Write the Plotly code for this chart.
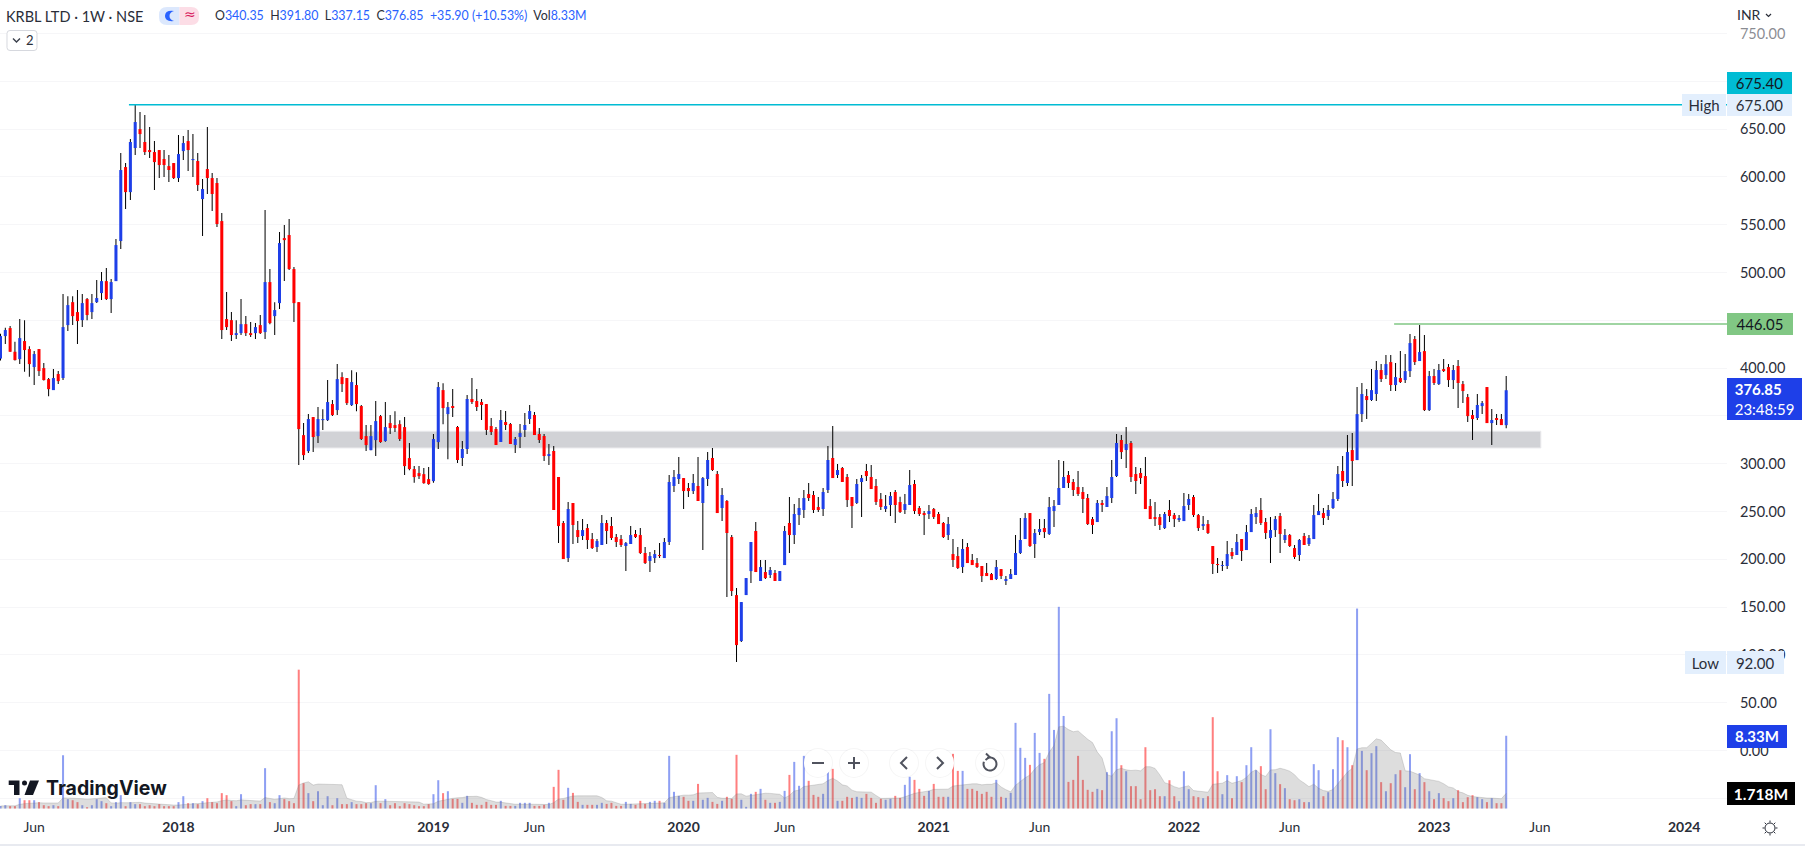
import math
import pandas as pd
import plotly.graph_objects as go

# ---------- data (weekly candles) ----------
opens = [410,433.5,441.9,417.1,409.4,428.3,419.9,401.1,419.9,400,
388.5,377,393.8,389.6,445,469,458.6,450.2,472.2,458.6,
469,478.5,491,472.2,491,532.9,610.3,584.1,630.2,650,
636.5,628.1,626,628.1,618.7,611.3,614.5,598.8,627,637.5,
617.6,616.6,576.8,608.2,598.8,593.6,553.8,451.3,450.2,434.6,
436.6,446,436.6,436.6,445,437.7,490,454.4,468,536,
539.2,503.6,469,329.9,313.2,348.8,328.9,345.6,345.6,362.4,
356.1,390.6,389.6,361.3,382.3,360.3,328.9,314.2,324.7,349.8,
323.7,342.5,340.4,341.4,338.3,305.9,294.4,290.2,289.1,283.9,
281.8,322.6,377,351.9,360.4,338.4,306,315.4,367.7,365.6,
364.5,362.4,339.4,336.3,322.7,343.6,341.5,319.6,328,335.3,
346.8,351,331.1,329,308,313.3,286.1,238,201.3,258.9,
230.6,224.4,232.7,221.2,212.9,215,238,234.8,223.3,221.2,
213.9,216,226.5,225.4,206.6,198.2,201.3,204.5,201.3,218.1,
276.7,284,285,274.6,271.4,276.7,258.9,284,306,289.2,
253.7,261,223.3,162.6,114.5,162.6,187.7,229.6,177.3,186.7,
183.6,185.7,177.3,194,238,225.4,246.3,251.6,268.3,267.3,
254.7,252.6,272.5,306,288.2,295.5,286.1,265.2,258.9,280.9,
292.4,286.1,276.7,263,252.6,256.8,270.4,259.9,251.6,256.8,
278.8,253.7,248.4,247.4,252.6,247.4,238,225.4,205.5,203.4,
191.9,212.9,199.3,196.1,193,185.7,184.6,179.4,189.8,177.3,
179.4,183.6,206.6,221.2,248.4,216,228.5,232.7,226.5,250.5,
256.8,274.6,288.2,280.9,275.6,270.4,264.1,242.1,239,258.9,
254.7,264.1,287.1,324.8,314.3,321.7,289.2,290.3,287.1,255.7,
244.2,244.2,232.7,251.6,246.3,241.1,240,256.8,265.2,246.3,
234.8,236.9,213.9,195.1,193,193,207.6,204.5,221.2,209.7,
228.5,244.2,251.6,239,222.3,230.6,245.3,220.2,225.4,211.8,
204.5,224.4,216,221.2,246.3,248.4,245.3,253.7,263.1,292.4,
279.8,314.3,303.8,351.9,370.8,366.6,372.9,398,392.7,406.3,
382.3,389.6,387.5,396.9,430.4,407.4,417.8,356.1,391.7,383.3,
399,401.1,387.5,402.2,383.3,369.7,350.9,347.8,360.3,380.2,
342.5,347.8,346.7,340.35]

closes = [433.5,439.8,417.1,408.4,431.4,418.9,404.2,414.7,396.9,387.5,
378,389.6,386.4,442.9,465.9,454.4,449.2,468,455.5,468,
473.3,491,472.2,490,528.7,607.2,584.1,636.5,657.4,644.8,
626,626,615.5,612.4,612.4,607.2,598.8,623.9,635.4,628.1,
618.7,591.5,587.3,598.8,582.1,550.7,439.8,442.9,434.6,436.6,
446,436.6,434.6,442.9,436.6,490,447.1,460.7,530.8,533.9,
503.6,468,336.2,309,346.7,327.9,346.7,346.7,364.5,350.9,
388.5,383.3,363.4,385.4,362.4,325.8,319.5,328.9,344.6,322.6,
338.3,337.3,337.3,325.8,297.5,294.4,286,287,279.7,278.7,
325.8,380.2,358.2,359.2,358.3,303.9,315.4,367.7,364.5,359.3,
361.4,335.3,333.2,319.6,345.7,340.5,320.6,325.8,332.1,340.5,
355.1,330,324.8,308,310.1,251.6,234.8,200.3,252.6,235.9,
223.3,230.6,220.2,211.8,219.1,238,229.6,222.3,218.1,215,
217,225.4,223.3,206.6,196.1,203.4,205.5,203.4,218.1,280.9,
286.1,289.2,271.4,271.4,279.8,261,285,303.9,293.4,248.4,
267.3,227.5,166.8,110.3,155.3,180.4,218.1,186.7,191.9,180.4,
188.8,177.3,187.7,229.6,225.4,247.4,253.7,264.1,264.1,251.6,
251.6,270.4,303.9,285,293.4,280.9,262,255.7,278.8,285,
287.1,273.5,260,254.7,255.7,266.2,256.8,249.5,257.8,277.7,
250.5,247.4,246.3,250.5,244.2,236.9,223.3,236.9,199.3,190.9,
210.8,196.1,194,191.9,182.5,182.5,178.3,191.9,182.5,179.4,
184.6,206.6,220.2,243.2,213.9,227.5,231.7,228.5,254.7,255.7,
274.6,286.1,279.8,272.5,268.3,263.1,236.9,235.9,258.9,256.8,
266.2,286.1,321.7,312.2,320.6,286.1,281.9,285,252.6,242.1,
242.1,235.9,247.4,245.3,242.1,243.2,255.7,263.1,246.3,232.7,
236.9,227.5,195.1,194,194,205.5,203.4,218.1,208.7,228.5,
247.4,248.4,238,227.5,230.6,242.1,226.5,225.4,213.9,202.4,
220.2,215,222.3,246.3,250.5,243.2,251.6,263.1,289.2,281.9,
312.2,302.8,351.9,372.9,366.6,377,398,388.6,404.2,382.3,
390.6,385.4,396.9,426.2,406.3,416.8,356.1,391.7,384.4,398,
396.9,387.5,398,384.4,376,349.8,346.7,361.4,363.4,342.5,
345.7,345.7,340.4,376.85]

highs = [436,442.2,444,427.6,451.3,450.2,423,417.8,419.9,405.3,
389.6,399,396.9,477.4,475.3,475.3,481.6,477.4,473.3,477.4,
492.1,500.5,504.6,493.1,535,625,614.5,639.6,675.2,667.8,
664.7,652.1,637.5,628.1,628.1,622.9,614.5,643.8,642.7,649,
644.8,625,597.7,652.1,604,598.8,562.2,479.5,458.6,450.2,
472.2,454.4,448.2,447.1,455.5,565.3,503.6,469,542.3,549.6,
555.9,505.7,469,342.5,351.9,348.8,359.2,357.1,387.5,366.6,
404.2,395.8,389.6,397.9,395.8,361.3,340.4,340.4,365.5,350.9,
364.5,350.9,355,345.6,348.8,321.6,297.5,297.5,295.4,296.5,
331,385.4,384.3,364.5,378.1,339.4,323.7,371.9,389.6,378.1,
367.7,362.4,347.8,338.4,356.2,355.1,342.6,328,341.5,353,
361.4,354.1,337.3,331.1,320.6,318.5,286.1,240,260,258.9,
240,242.1,236.9,227.5,221.2,246.3,241.1,244.2,226.5,225.4,
218.1,234.8,230.6,232.7,212.9,207.6,209.7,217,222.3,288.2,
293.4,307,285,279.8,289.2,307,286.1,312.2,316.4,292.4,
274.6,262,225.4,170,155.3,180.4,218.1,239,199.3,199.3,
191.9,188.8,187.7,234.8,265.2,257.8,264.1,272.5,279.8,271.4,
265.2,274.6,318.5,339.4,299.7,296.5,289.2,265.2,284,288.2,
299.7,298.6,284,269.3,267.3,270.4,272.5,265.5,268.3,293.4,
282.9,255.7,250.5,256.8,253.7,249.5,239,244.2,221.2,212.9,
221.2,217,205.5,201.3,193,196.1,185.7,199.3,189.8,182.5,
189.8,225.4,243.2,248.4,248.4,231.7,242.1,242.1,265.2,262,
303.9,302.8,292.4,284,292.4,275.6,268.3,244.2,262,262,
275.6,303.9,331.1,330,338.4,323.7,296.5,295.5,307,263.1,
259.9,247.4,249.5,262,248.4,246.3,269.3,268.3,267.3,247.4,
245.3,241.1,213.9,201.3,198.2,219.1,211.8,226.5,221.2,235.9,
252.6,254.7,264.1,243.2,244.2,245.3,248.4,231.7,226.5,214.9,
221.2,227.5,225.4,256.8,268.3,253.7,256.8,270.4,297.6,308,
330,332.1,380.2,384.4,378.1,399,407.4,404.2,413.7,413.7,
405.3,417.8,414.7,435.6,433.5,445,434.6,396.9,399,404.2,
409.5,404.2,403.2,408.4,386.5,372.9,356.1,372.9,365.5,380.2,
357.2,351.9,351.9,391.8]

lows = [408,425.1,417,408,404.2,396.2,391,382.3,391.7,387,
370.7,377,383.3,387.5,438.7,445,425.1,442.9,450.2,451.3,
468,471.2,471.2,457.6,491,524.5,566.4,575.8,622.9,630.2,
622.9,619.7,586.2,598.8,599.8,594.6,597.7,594.6,617.6,606.1,
599.8,585.2,538.1,582.1,564.3,547.5,430.4,439.8,428.3,430.4,
434.6,433.5,432.5,430.4,435.6,430.4,446,434.6,461.8,491,
502.6,448.2,298.6,303.8,311.1,312.2,321.6,335.2,344.6,349.8,
350.9,374.9,361.3,360.3,355,324.7,313.2,314,308,322,
323,331,333.1,323.7,288.1,293.3,280.1,283.9,279,278,
280.1,315.3,341.4,304.8,348.9,300.7,297.6,310.1,362.4,355.1,
345.7,330,330,319.6,322.7,335.3,320.6,311.2,316.4,328,
341.5,330,321.6,302.8,298.6,251.6,217,200.3,197.2,216,
217,220.2,210.8,210.8,207.6,215,216,220.2,212.9,212.9,
187.7,216,222.3,205.5,195.1,186.7,196.1,201.3,201.3,215,
270.4,278.8,252.6,265.2,268.3,261,209.7,276.7,292.4,248.4,
240,160.6,161.6,92.6,113.5,162.6,175.2,186.7,177.3,179.4,
180.4,177.3,177.3,194,206.6,216,235.9,243.2,261,248.4,
249.5,245.3,269.3,285,285,280.9,254.7,232.7,257.8,244.2,
281.9,273.5,256.8,251.6,249.5,245.3,238,248.4,247.4,256.8,
247.4,245.3,225.4,242.1,242.1,236.9,222.3,220.2,191.9,189.8,
185.7,196.1,194,190.9,176.2,182.5,178.3,178.3,179.4,173.1,
179.4,183.6,205.5,221.2,212.9,201.3,225.4,222.3,225.4,233.8,
256.8,274.6,274.6,266.2,266.2,248.4,235.9,226.5,239,249.5,
254.7,258.9,286.1,304.9,295.5,280.9,268.3,278.8,252.6,242.1,
234.8,230.6,231.7,239,233.8,239,240,251.6,244.2,229.6,
230.6,226.5,184.6,185.7,187.7,189.8,200.3,204.5,198.2,209.7,
228.5,236.9,235.9,221.2,196.1,223.3,206.6,217,212.9,200.3,
198.2,215,213.9,221.2,246.3,235.9,241.1,252.6,261,275.6,
276.7,276.6,303.8,343.6,346.7,365.5,365.5,385.4,388.6,376,
376,384.4,384.4,390.6,403.2,407.4,355.1,355.1,382.3,382.3,
395.9,380.2,378.1,358.2,363.4,343.6,324.7,345.7,351.9,342.5,
319.5,340.4,340.4,337.15]

# weekly volume in millions
volumes = [.3,.38,.27,.27,1.18,.95,.95,.95,.73,.38,
.27,.38,.27,6.1,1.07,.95,.73,.38,.15,.38,
1.07,.84,.61,.27,.73,1.53,.27,.73,.5,.5,
.27,.38,.27,.5,.27,.27,.27,.73,1.41,.61,
.61,.5,.84,1.18,.73,.61,1.76,1.53,.84,.27,
1.64,.38,.5,.5,.5,4.62,.73,.61,1.53,1.07,
.84,.61,15.9,2.9,1.76,.84,1.98,.38,1.41,.38,
1.18,.5,.5,.73,.5,.5,.61,.61,2.67,.61,
1.07,.38,.61,.27,.61,.5,.38,.27,.27,.5,
1.64,3.24,1.76,1.98,1.1,1.1,.65,1.45,.65,.42,
.42,.76,.42,.42,.88,.3,.3,.3,.65,.65,
.65,.3,.3,.42,.65,2.48,4.43,1.0,2.37,1.79,
.76,.42,.42,.42,.42,.65,.53,.65,.3,.3,
.76,.53,.42,.88,.53,.76,.88,.88,.65,6.03,
1.91,1.45,1.34,.88,.88,2.82,1.0,1.22,.76,.53,
.88,1.34,1.11,6.15,1.0,.19,1.68,1.91,2.25,1.0,
.65,.65,.76,2.02,3.85,5.34,2.6,6.03,3.17,1.56,
1.34,1.68,4.43,4.54,.88,.88,1.34,1.22,1.34,1.22,
1.68,1.22,.65,1.11,1.0,1.11,1.45,1.22,2.71,3.63,
3.28,2.25,1.45,2.02,2.82,1.34,1.34,1.34,6.26,4.31,
4.31,2.25,2.25,2.02,1.68,1.91,1.34,3.28,1.34,1.22,
1.79,9.81,6.95,5.8,5.0,8.66,6.37,5.69,13.13,9.0,
23.1,10.6,3.05,3.28,6.03,3.28,2.14,1.91,2.25,2.1,
4.16,8.85,10.34,4.96,4.27,2.56,2.56,1.07,7.02,2.1,
2.21,1.41,1.41,3.24,1.41,.84,4.27,2.21,1.41,1.3,
1.18,1.41,10.46,4.27,1.64,3.82,1.18,3.7,3.02,4.96,
7.02,4.39,4.85,2.21,9.08,4.05,2.79,2.33,1.07,.95,
1.07,.73,.73,5.08,4.39,1.41,1.87,4.5,8.17,7.82,
7.02,4.96,22.9,6.6,4.39,6.34,7.14,3.02,1.98,2.9,
3.93,4.39,2.44,6.22,2.21,4.05,3.02,1.98,1.07,1.76,
1.18,.84,1.18,2.1,.73,1.3,1.53,1.3,1.07,.73,
1.18,.61,.61,8.33]

tick_weeks = [7, 37, 59, 90, 111, 142, 163, 194, 216, 246, 268, 298, 320, 350]
tick_labels = ["Jun", "<b>2018</b>", "Jun", "<b>2019</b>", "Jun", "<b>2020</b>", "Jun",
               "<b>2021</b>", "Jun", "<b>2022</b>", "Jun", "<b>2023</b>", "Jun", "<b>2024</b>"]
price_ticks = [750, 700, 650, 600, 550, 500, 450, 400, 350, 300, 250, 200, 150, 100, 50, 0, -50]
# these axis labels sit fully behind a price tag in the reference
hidden_labels = [700, 450, 350, -50]

high_level = 675.4
swing_high = 446.05
zone_top, zone_bottom = 334, 316.5
zone_start, zone_end = 65, 320.2
high_line_start = 26.7
swing_line_start = 289.7
ma_window = 10

# ---------- styling ----------
W, H = 1805, 848
PLOT_W, PLOT_H = 1727, 812
BLUE, RED = "#1E3FE8", "#FF0000"
# a hair under full opacity makes plotly snap bar edges by rounding, so wicks stay 1px wide
BLUE_BAR, RED_BAR, WICK = "rgba(30,63,232,0.999)", "rgba(255,0,0,0.999)", "rgba(0,0,0,0.999)"
FONT = "Lato"
TEXT = "#2A2E39"

weeks = list(range(len(opens)))
ups = [c >= o for o, c in zip(opens, closes)]
body_colors = [BLUE_BAR if u else RED_BAR for u in ups]
vol_colors = ["rgba(30,63,232,0.5)" if u else "rgba(255,0,0,0.5)" for u in ups]
vol_ma = pd.Series(volumes).rolling(ma_window, min_periods=1).mean().tolist()


def fx(x):
    return x / PLOT_W


def fy(y):
    return 1 - y / PLOT_H


fig = go.Figure()
# volume pane (base axis so that it stays under the price marks)
fig.add_trace(go.Bar(x=weeks, y=volumes, width=0.42, marker=dict(color=vol_colors, line=dict(width=0)),
                     yaxis="y", hoverinfo="skip"))
fig.add_trace(go.Scatter(x=weeks, y=vol_ma, mode="lines", fill="tozeroy", fillcolor="rgba(120,120,120,0.25)",
                         line=dict(color="rgba(120,120,120,0.25)", width=1), yaxis="y", hoverinfo="skip"))
# candles
fig.add_trace(go.Bar(x=weeks, y=[h - l for h, l in zip(highs, lows)], base=lows, width=0.21,
                     marker=dict(color=WICK, line=dict(width=0)), yaxis="y2", hoverinfo="skip"))
fig.add_trace(go.Bar(x=weeks, y=[abs(c - o) for o, c in zip(opens, closes)],
                     base=[min(o, c) for o, c in zip(opens, closes)], width=0.63,
                     marker=dict(color=body_colors, line=dict(width=0)), yaxis="y2", hoverinfo="skip"))

shapes = [
    dict(type="rect", xref="x", yref="y2", x0=zone_start, x1=zone_end, y0=zone_bottom, y1=zone_top,
         fillcolor="#D1D2D6", line=dict(color="#E9E9EC", width=1), layer="below"),
    dict(type="line", xref="x", yref="y2", x0=high_line_start, x1=359, y0=high_level, y1=high_level,
         line=dict(color="#00BCD4", width=1.5)),
    dict(type="line", xref="x", yref="y2", x0=swing_line_start, x1=359, y0=swing_high, y1=swing_high,
         line=dict(color="#81C784", width=1.5)),
    dict(type="line", xref="paper", yref="paper", x0=0, x1=fx(W), y0=fy(845), y1=fy(845),
         line=dict(color="#E0E3EB", width=1.5)),
    # fade over the topmost axis label
    dict(type="rect", xref="paper", yref="paper", x0=fx(1730), x1=fx(1795), y0=fy(26), y1=fy(42),
         fillcolor="rgba(255,255,255,0.45)", line=dict(width=0)),
]


def path_shape(d, fill=None, line=None, width=1):
    s = dict(type="path", xref="paper", yref="paper", path=d, line=dict(width=0))
    if fill:
        s["fillcolor"] = fill
    if line:
        s["line"] = dict(color=line, width=width)
    return s


def poly(points, close=True):
    d = "M " + " L ".join(f"{fx(x):.5f},{fy(y):.5f}" for x, y in points)
    return d + (" Z" if close else "")


P = lambda x, y: f"{fx(x):.5f},{fy(y):.5f}"


def rounded(x0, y0, x1, y1, rl, rr):
    return (f"M {P(x0 + rl, y0)} L {P(x1 - rr, y0)} Q {P(x1, y0)} {P(x1, y0 + rr)} "
            f"L {P(x1, y1 - rr)} Q {P(x1, y1)} {P(x1 - rr, y1)} L {P(x0 + rl, y1)} "
            f"Q {P(x0, y1)} {P(x0, y1 - rl)} L {P(x0, y0 + rl)} Q {P(x0, y0)} {P(x0 + rl, y0)} Z")


# header pills and the collapse box
V = "#2962FF"
shapes.append(path_shape(rounded(159, 7, 179.5, 25, 8, 0.01), fill="#DCE8FD"))
shapes.append(path_shape(rounded(179.5, 7, 199, 25, 0.01, 8), fill="#FCDDE6"))
shapes.append(path_shape(
    f"M {P(174, 11)} Q {P(165, 10)} {P(165, 16)} Q {P(165, 22)} {P(174, 21)} "
    f"Q {P(169.5, 19.5)} {P(169.5, 16)} Q {P(169.5, 12.5)} {P(174, 11)} Z", fill=V))
shapes.append(path_shape(rounded(7, 30.5, 37, 50.5, 3, 3), fill="#FFFFFF", line="#D6D8DE"))
shapes.append(path_shape(poly([(13, 38.5), (16.5, 42), (20, 38.5)], close=False), line="#3A3F4B", width=1.4))

# TradingView mark
shapes.append(path_shape(poly([(8.7, 780.5), (19.5, 780.5), (19.5, 795), (14, 795), (14, 785), (8.7, 785)]), fill="#131722"))
shapes.append(dict(type="circle", xref="paper", yref="paper", x0=fx(22), x1=fx(27), y0=fy(785.5), y1=fy(780.5),
                   fillcolor="#131722", line=dict(width=0)))
shapes.append(path_shape(poly([(30, 780.5), (39, 780.5), (33, 795), (24.5, 795)]), fill="#131722"))

# floating buttons
for cx in (818, 854, 904, 940, 990):
    shapes.append(dict(type="circle", xref="paper", yref="paper", x0=fx(cx - 15), x1=fx(cx + 15),
                       y0=fy(763 + 15), y1=fy(763 - 15), fillcolor="rgba(0,0,0,0.04)", line=dict(width=0)))
    shapes.append(dict(type="circle", xref="paper", yref="paper", x0=fx(cx - 14), x1=fx(cx + 14),
                       y0=fy(763 + 14), y1=fy(763 - 14), fillcolor="#FFFFFF", line=dict(width=0)))
ICON = "#50535E"
shapes.append(path_shape(poly([(812, 763), (824, 763)], close=False), line=ICON, width=2))
shapes.append(path_shape(poly([(848, 763), (860, 763)], close=False), line=ICON, width=2))
shapes.append(path_shape(poly([(854, 757), (854, 769)], close=False), line=ICON, width=2))
shapes.append(path_shape(poly([(907, 757), (901, 763), (907, 769)], close=False), line=ICON, width=2))
shapes.append(path_shape(poly([(937, 757), (943, 763), (937, 769)], close=False), line=ICON, width=2))
# reset icon: open ring with an arrow head
ring = [(990 + 6.5 * math.cos(math.radians(a)), 764 + 6.5 * math.sin(math.radians(a))) for a in range(-115, 215, 15)]
shapes.append(path_shape(poly(ring, close=False), line=ICON, width=2))
shapes.append(path_shape(poly([(986, 753.5), (989.5, 757), (985.5, 760)], close=False), line=ICON, width=2))

# settings icon: small ring with rays
GEAR = "#2A2E39"
shapes.append(dict(type="circle", xref="paper", yref="paper", x0=fx(1765), x1=fx(1775), y0=fy(833), y1=fy(823),
                   fillcolor="#FFFFFF", line=dict(color=GEAR, width=1)))
for a in range(0, 360, 45):
    c, s = math.cos(math.radians(a)), math.sin(math.radians(a))
    shapes.append(path_shape(poly([(1770 + 5.5 * c, 828 + 5.5 * s), (1770 + 7.5 * c, 828 + 7.5 * s)], close=False),
                             line=GEAR, width=1))

annotations = []


def label(x, y, text, size=14, color=TEXT, w=None, h=None, bg=None, anchor="left", align="left", family=FONT):
    a = dict(xref="paper", yref="paper", x=fx(x), y=fy(y), xanchor=anchor, yanchor="top", text=text, showarrow=False,
             font=dict(family=family, size=size, color=color), align=align, borderpad=0, borderwidth=0)
    if w:
        a["width"] = w
    if h:
        a["height"] = h
    if bg:
        a["bgcolor"] = bg
    annotations.append(a)


def v(s):
    return f'<span style="color:{V}">{s}</span>'


label(6, 8, "KRBL LTD · 1W · NSE", size=14.5, color="#2A2E39")
label(183.5, 6, "≈", size=14, color="#D81B60", family="DejaVu Sans")
label(215, 8, "O" + v("340.35") + "  H" + v("391.80") + "  L" + v("337.15") + "  C" + v("376.85") + "  " +
      v("+35.90 (+10.53%)") + "  Vol" + v("8.33M"), size=12.4)
label(26, 32, "2", size=13)
label(46, 776, "<b>TradingView</b>", size=19.5, color="#131722", family="Inter")
label(1737, 6, "INR", size=14)
shapes.append(path_shape(poly([(1766, 14), (1768.5, 16.5), (1771, 14)], close=False), line=TEXT, width=1.2))

# right-hand price tags
LIGHT = "#E3EFFD"
label(1727, 72, "675.40", w=65, h=22, bg="#00BCD4", color="#131722", size=15, anchor="left", align="center")
label(1682, 94.3, "High", w=44, h=22.4, bg=LIGHT, size=15, align="center")
label(1727, 94.3, "675.00", w=65, h=22.4, bg=LIGHT, size=15, align="center")
label(1727, 313, "446.05", w=66, h=22, bg="#81C784", color="#131722", size=15, align="center")
label(1727, 378, "&nbsp;&nbsp;<b>376.85</b><br>&nbsp;&nbsp;23:48:59", w=75, h=42, bg=BLUE, color="#FFFFFF", size=15, align="left")
label(1685, 651, "Low", w=41, h=23, bg=LIGHT, size=15, align="center")
label(1727, 651, "92.00", w=56.5, h=23, bg=LIGHT, size=15, align="center")
label(1727, 725, "<b>8.33M</b>", w=60, h=22.7, bg=BLUE, color="#FFFFFF", size=15, align="center")
label(1727, 782, "<b>1.718M</b>", w=68, h=23, bg="#000000", color="#FFFFFF", size=15.5, align="center")

fig.update_layout(
    width=W, height=H, margin=dict(l=0, r=W - PLOT_W, t=0, b=H - PLOT_H, pad=0),
    paper_bgcolor="#FFFFFF", plot_bgcolor="#FFFFFF", showlegend=False, barmode="overlay",
    font=dict(family=FONT, color=TEXT),
    xaxis=dict(range=[-0.104, 358.9], tickmode="array", tickvals=tick_weeks, ticktext=tick_labels,
               showgrid=False, zeroline=False, showline=False, ticks="outside", ticklen=2,
               tickcolor="rgba(0,0,0,0)", tickfont=dict(size=14, color=TEXT, family=FONT)),
    yaxis=dict(range=[-0.40, 92.6], visible=False, fixedrange=True),
    yaxis2=dict(range=[-64.3, 785.05], overlaying="y", side="right", tickmode="array", tickvals=price_ticks,
                ticktext=["" if t in hidden_labels else f"{t:.2f}" for t in price_ticks],
                showgrid=True, gridcolor="#F6F6F8", gridwidth=1,
                zeroline=False, showline=False, ticks="outside", ticklen=9, tickcolor="rgba(0,0,0,0)",
                tickfont=dict(size=14.5, color=TEXT, family=FONT)),
    shapes=shapes, annotations=annotations,
)

fig.write_html("out.html", config=dict(displayModeBar=False),
               post_script="document.body.style.margin='0';document.body.style.overflow='hidden';")
